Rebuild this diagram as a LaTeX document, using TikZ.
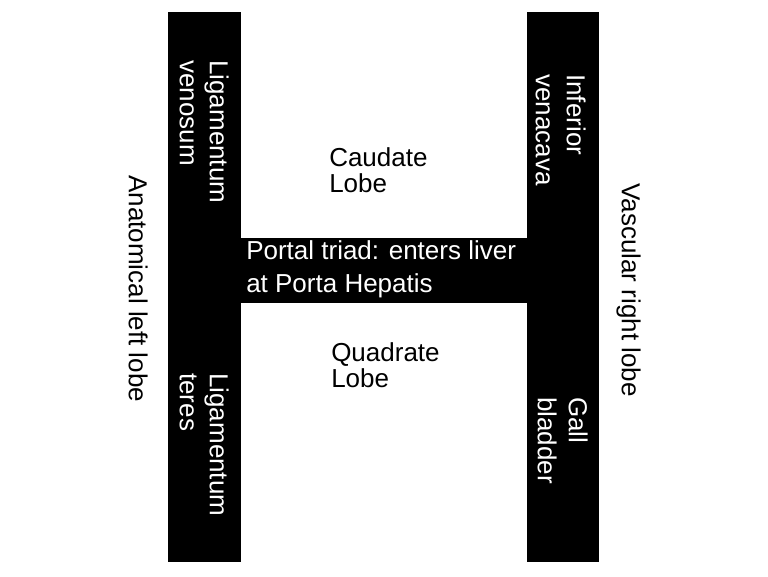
\documentclass[tikz,border=0pt]{standalone}
\usepackage{fontspec}
\setmainfont{Liberation Sans}
\tikzset{
  px/.style={x=0.75pt, y=-0.75pt},
  lbl/.style={inner sep=0pt, anchor=north west, align=left,
              font=\fontsize{19.5}{19.5}\selectfont},
  vlbl/.style={lbl, rotate=-90},
  barlbl/.style={vlbl, text=white}
}
\begin{document}
\begin{tikzpicture}[px]
  \useasboundingbox (0,0) rectangle (768,576);
  % the H: two bars and the cross bar
  \fill (168,12) rectangle (241,562);
  \fill (527,12) rectangle (599,562);
  \fill (240,238) rectangle (528,303);

  \node[lbl, text=white] (triad) at (246,240)
    {Portal triad: enters liver\\[5.25pt]at Porta Hepatis};
  \node[lbl] (caudate) at (329,147) {Caudate\\Lobe};
  \node[lbl] (quadrate) at (331,342) {Quadrate\\Lobe};

  \node[barlbl] (venosum) at (229,60) {Ligamentum\\[3pt]venosum};
  \node[barlbl] (teres) at (229,373) {Ligamentum\\[3pt]teres};
  \node[barlbl] (ivc) at (586,74) {Inferior\\[3.75pt]venacava};
  \node[barlbl] (gall) at (588,397) {Gall\\[3.75pt]bladder};

  \node[vlbl] (leftlobe) at (148,175) {Anatomical left lobe};
  \node[vlbl] (rightlobe) at (641,183) {Vascular right lobe};
\end{tikzpicture}
\end{document}
